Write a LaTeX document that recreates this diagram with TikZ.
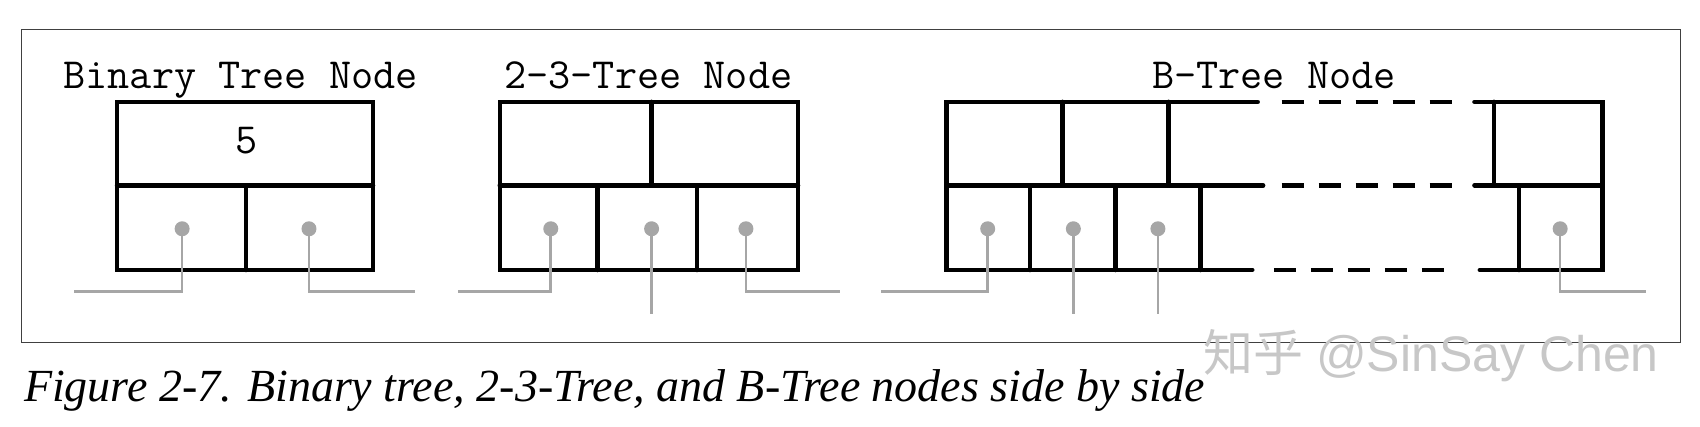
\documentclass[tikz,border=0pt]{standalone}
\usepackage{fontspec}
\setmainfont{Liberation Serif}
\newfontfamily\cjk{Noto Sans CJK SC}
\newfontfamily\wm{Liberation Sans}
\begin{document}
\begin{tikzpicture}[x=1.0842pt,y=-1.0842pt,
  box/.style={line width=4.6pt,black,line cap=round},
  dsh/.style={line width=4.6pt,black,dash pattern=on 22pt off 15pt},
  ptr/.style={line width=2.6pt,color=black!35},
  dot/.style={circle,fill=black!35,inner sep=0pt,minimum size=15pt},
  ttl/.style={font=\ttfamily\fontsize{43}{43}\selectfont,anchor=base},
  frame/.style={line width=1.5pt,black!75}]
\useasboundingbox (0,0) rectangle (1568,393);
\draw[frame] (20,27) rectangle (1550,316);
% Binary
\node[ttl] (t1) at (222,82) {Binary Tree Node};
\draw[box] (108,94) rectangle (344,249) (108,171) -- (344,171) (227,171) -- (227,249);
\node[font=\ttfamily\fontsize{43}{43}\selectfont] (v5) at (227,130) {5};
\node[dot] (b1) at (168,211) {}; \node[dot] (b2) at (285,211) {};
\coordinate (b1e) at (68,269); \coordinate (b2e) at (383,269);
\draw[ptr] (b1) |- (b1e); \draw[ptr] (b2) |- (b2e);
% 2-3
\node[ttl] (t2) at (598,82) {2-3-Tree Node};
\draw[box] (461,94) rectangle (736,249) (461,171) -- (736,171) (601,94) -- (601,171)
  (551,171) -- (551,249) (643,171) -- (643,249);
\node[dot] (c1) at (508,211) {}; \node[dot] (c2) at (601,211) {}; \node[dot] (c3) at (688,211) {};
\coordinate (c1e) at (422,269); \coordinate (c2e) at (601,290); \coordinate (c3e) at (775,269);
\draw[ptr] (c1) |- (c1e); \draw[ptr] (c2) -- (c2e); \draw[ptr] (c3) |- (c3e);
% B-tree
\node[ttl] (t3) at (1175,82) {B-Tree Node};
\draw[box] (1160,94) -| (873,249) -- (1155,249)
  (873,171) -- (1165,171)
  (1360,94) -| (1478,249) -- (1365,249)
  (1478,171) -- (1360,171)
  (980,94) -- (980,171) (1078,94) -- (1078,171) (1378,94) -- (1378,171)
  (950,171) -- (950,249) (1029,171) -- (1029,249) (1107,171) -- (1107,249) (1401,171) -- (1401,249);
\draw[dsh] (1182,94) -- (1345,94) (1182,171) -- (1345,171) (1175,249) -- (1345,249);
\node[dot] (d1) at (911,211) {}; \node[dot] (d2) at (990,211) {}; \node[dot] (d3) at (1068,211) {}; \node[dot] (d4) at (1439,211) {};
\coordinate (d1e) at (813,269); \coordinate (d2e) at (990,290); \coordinate (d3e) at (1068,290); \coordinate (d4e) at (1518,269);
\draw[ptr] (d1) |- (d1e); \draw[ptr] (d2) -- (d2e); \draw[ptr] (d3) -- (d3e); \draw[ptr] (d4) |- (d4e);
% caption
\node[anchor=base west,inner sep=0pt,font=\itshape\fontsize{46}{46}\selectfont] (cap) at (22,370) {Figure 2-7. Binary tree, 2-3-Tree, and B-Tree nodes side by side};
\node[anchor=base west,inner sep=0pt,text=black!22,font=\fontsize{50}{50}\selectfont] (wm) at (1110,343) {{\cjk 知乎} {\wm @SinSay Chen}};
\end{tikzpicture}
\end{document}
